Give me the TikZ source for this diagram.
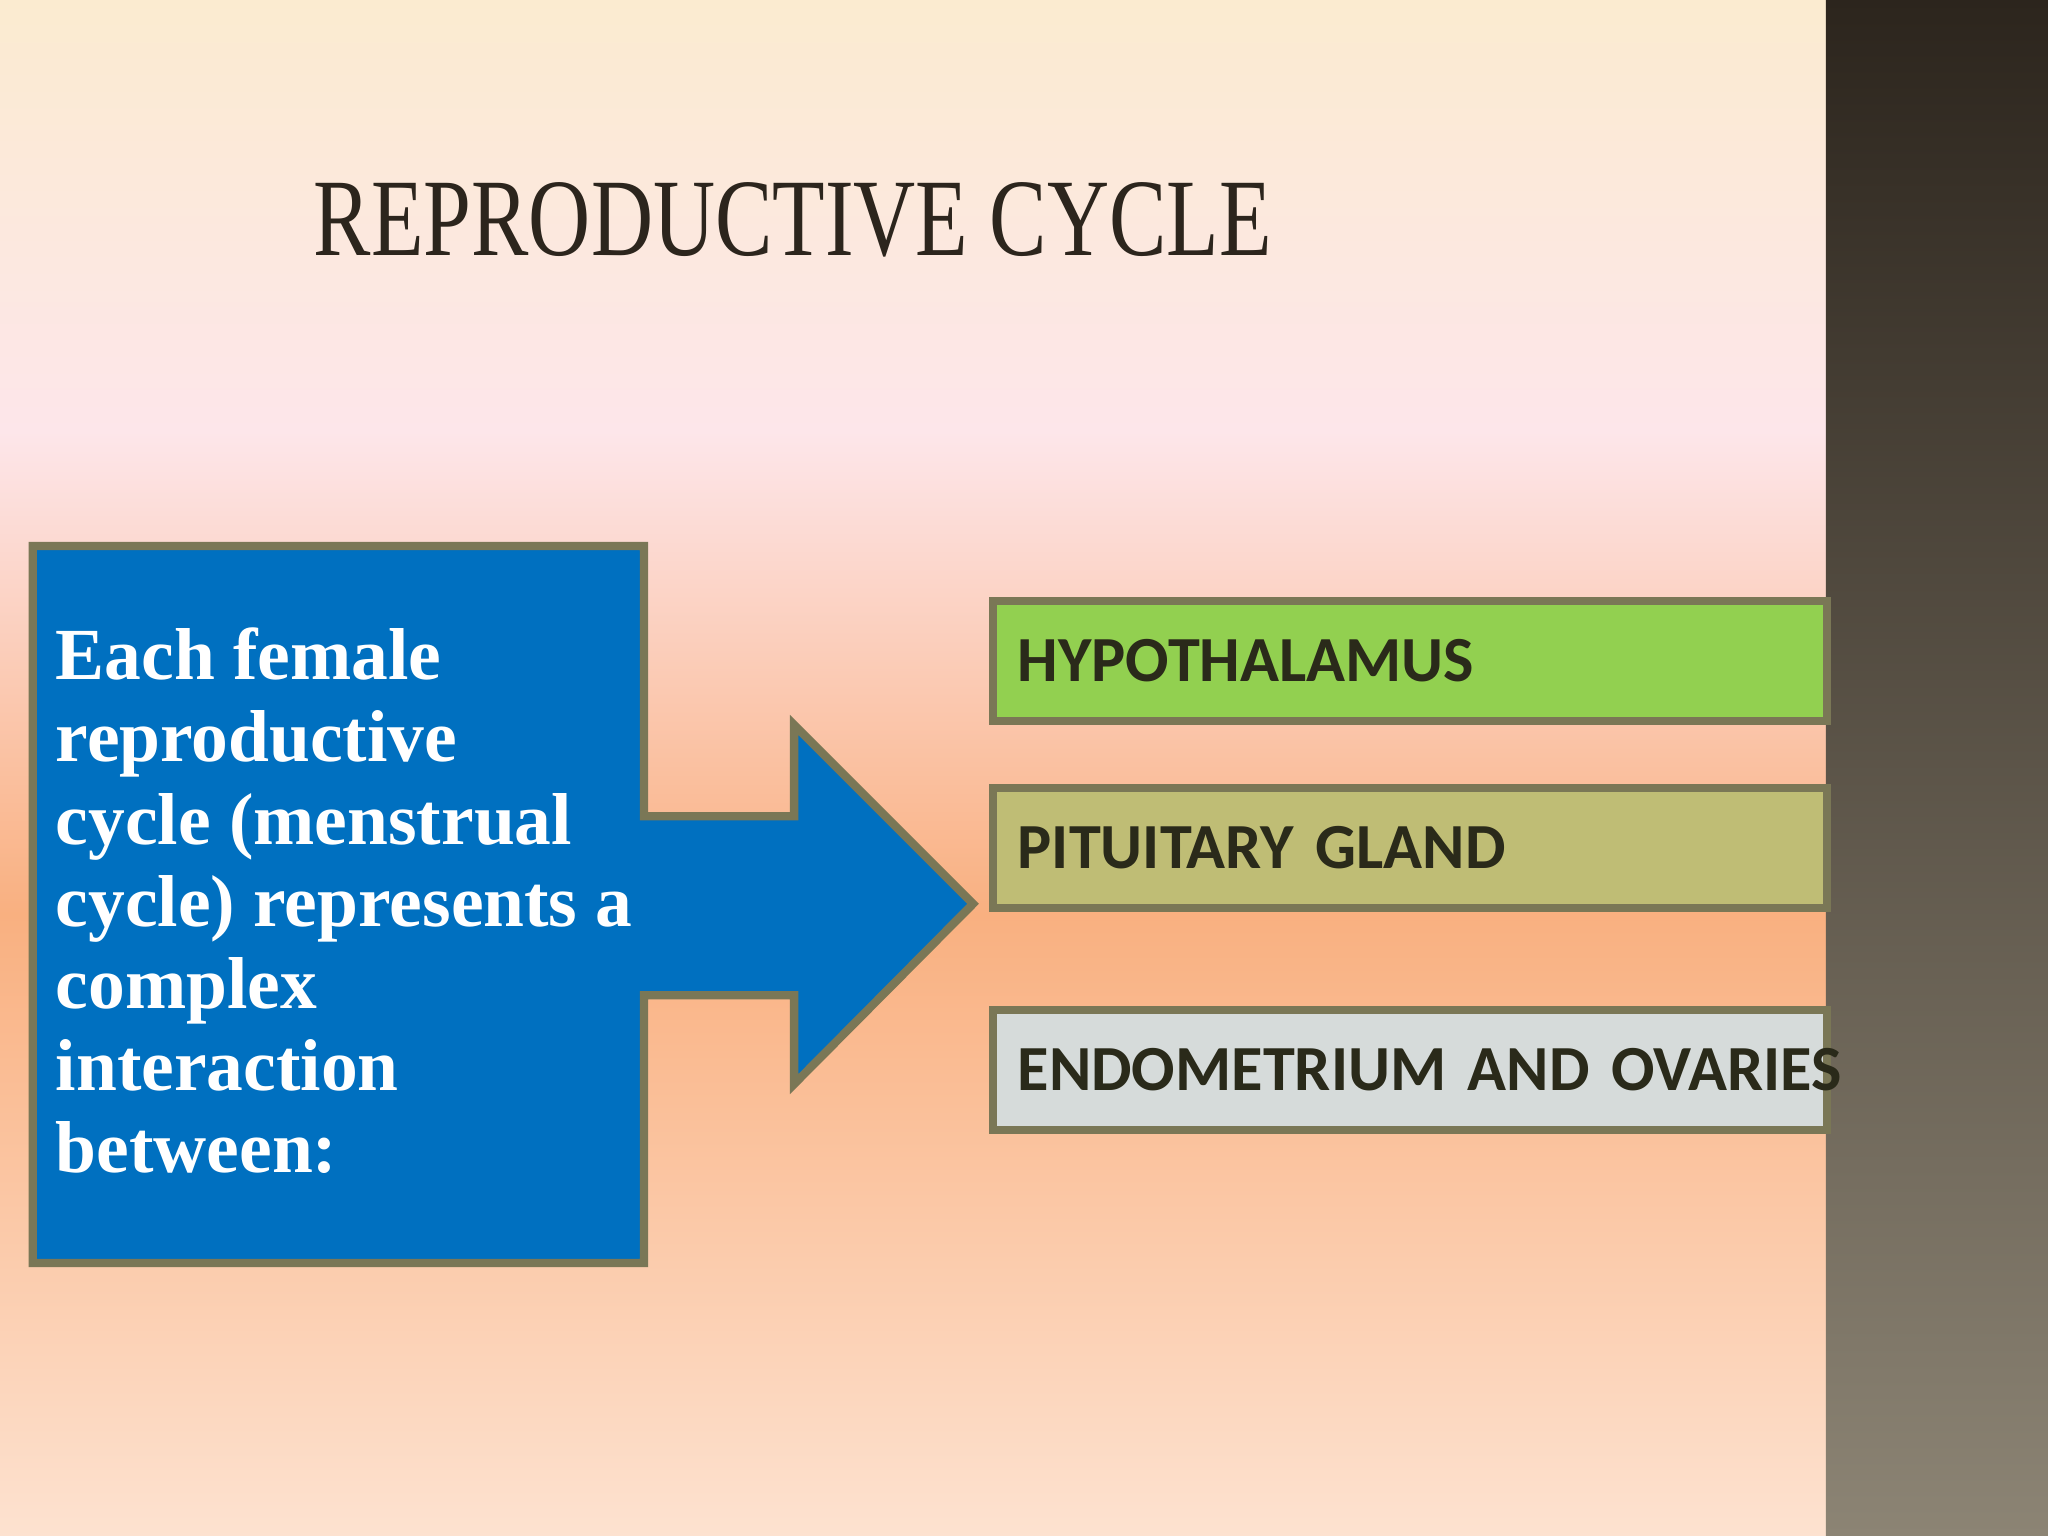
\documentclass[tikz,border=0pt]{standalone}
\usepackage{fontspec}
\setmainfont{Liberation Serif}
\newfontfamily\boxfont{Carlito}
\usetikzlibrary{positioning}
\definecolor{bgtop}{HTML}{FBEBD0}
\definecolor{bgpink}{HTML}{FDE6EA}
\definecolor{bgorange}{HTML}{F9B080}
\definecolor{bgbottom}{HTML}{FDE2D0}
\definecolor{darktop}{HTML}{2C251D}
\definecolor{darkbot}{HTML}{8C8474}
\definecolor{slideblue}{HTML}{0070C0}
\definecolor{edgeolive}{HTML}{7A7756}
\definecolor{hypogreen}{HTML}{92D050}
\definecolor{pituolive}{HTML}{BFBD75}
\definecolor{endogray}{HTML}{D6DBDA}
\definecolor{inktext}{HTML}{2A2A1A}
\tikzset{
  itembox/.style={draw=edgeolive, line width=1.8pt, minimum width=6.38cm, minimum height=0.92cm,
    text width=6.0cm, align=left, anchor=north west, font=\boxfont\bfseries\fontsize{14}{16}\selectfont,
    text=inktext, inner xsep=0.15cm, inner ysep=0pt}
}
\begin{document}
\begin{tikzpicture}[x=0.01cm,y=-0.01cm]
  \useasboundingbox (0,0) rectangle (1568,1176);
  % background
  \shade[top color=bgtop, bottom color=bgpink] (0,0) rectangle (1398,330);
  \shade[top color=bgpink, bottom color=bgorange] (0,330) rectangle (1398,700);
  \shade[top color=bgorange, bottom color=bgbottom] (0,700) rectangle (1398,1176);
  \shade[top color=darktop, bottom color=darkbot] (1398,0) rectangle (1568,1176);
  % title
  \node (title) at (607,168) {\scalebox{0.78}[1]{\fontsize{24}{26}\selectfont\color{darktop}REPRODUCTIVE CYCLE}};
  % arrow
  \draw[fill=slideblue, draw=edgeolive, line width=1.8pt, line join=miter]
    (25,418) -- (493,418) -- (493,625) -- (608,625) -- (608,555) -- (745,692)
    -- (608,830) -- (608,762) -- (493,762) -- (493,967) -- (25,967) -- cycle;
  \node[anchor=north west, align=left, text=white, inner sep=0pt,
    font=\bfseries\fontsize{16}{17.9}\selectfont] (cycle) at (42,480)
    {Each female\\ reproductive\\ cycle (menstrual\\ cycle) represents a\\ complex\\ interaction\\ between:};
  % boxes
  \node[itembox, fill=hypogreen] (hypo) at (757,457) {\mbox{HYPOTHALAMUS}};
  \node[itembox, fill=pituolive] (pitu) at (757,600) {\mbox{PITUITARY GLAND}};
  \node[itembox, fill=endogray] (endo) at (757,770) {\mbox{ENDOMETRIUM AND OVARIES}};
\end{tikzpicture}
\end{document}
